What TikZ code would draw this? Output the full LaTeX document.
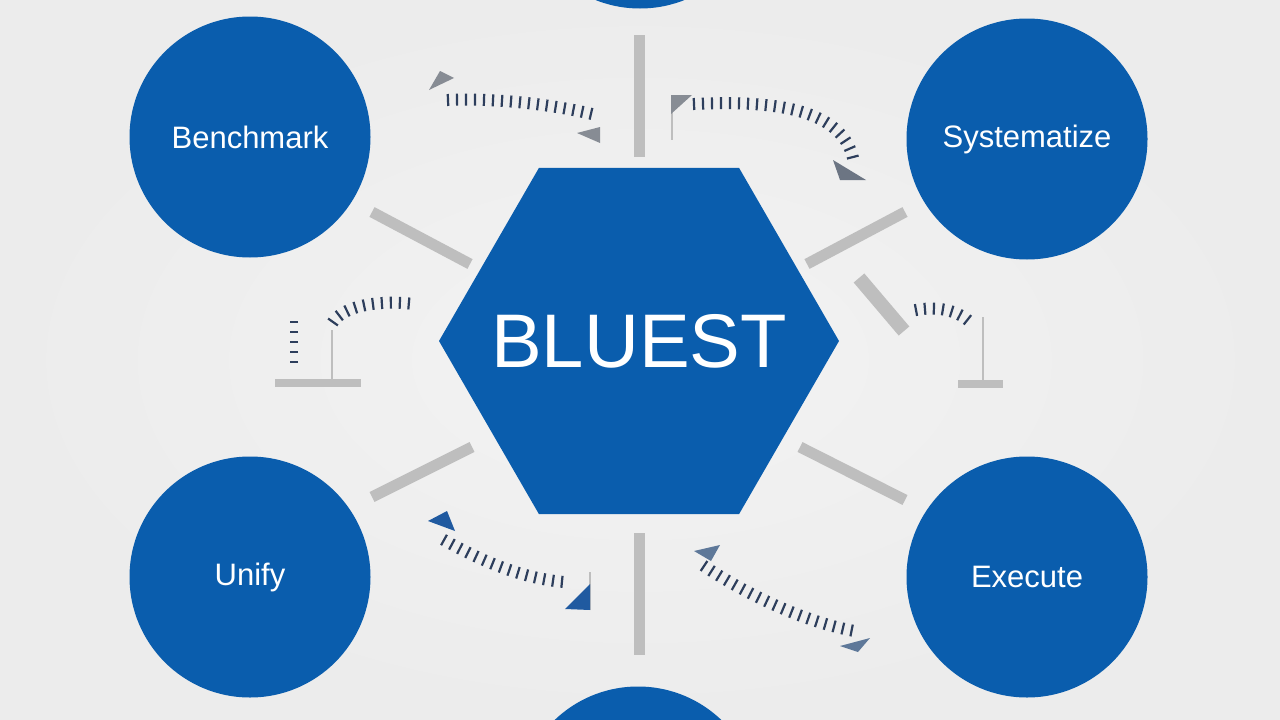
\documentclass[tikz,border=0pt]{standalone}
\usepackage{fontspec}
\setmainfont{Liberation Sans}
\usetikzlibrary{shapes.geometric,decorations.pathreplacing}
\definecolor{bblue}{RGB}{10,93,173}
\definecolor{bgc}{RGB}{236,236,236}
\definecolor{bgin}{RGB}{243,243,243}
\definecolor{barc}{RGB}{190,190,190}
\definecolor{tric}{RGB}{135,140,148}
\definecolor{trib}{RGB}{32,90,160}
\definecolor{glyc}{RGB}{45,62,92}
\tikzset{
  circ/.style={circle,fill=bblue,minimum size=241pt,inner sep=0pt,text=white,font=\fontsize{31}{34}\selectfont},
  hexa/.style={regular polygon,regular polygon sides=6,fill=bblue,minimum size=400pt,inner sep=0pt,outer sep=0pt},
  hextext/.style={text=white,inner sep=0pt,font=\fontsize{76}{80}\selectfont},
  bar/.style={draw=barc,line width=11pt,line cap=butt},
  thinbar/.style={draw=barc,line width=2.5pt},
  flatbar/.style={draw=barc,line width=8pt,line cap=butt},
  glyphs/.style={draw=glyc,line width=2.2pt,decorate,decoration={ticks,segment length=9pt,amplitude=6pt}},
  trigray/.style={fill=tric},
  triblue/.style={fill=trib}
}
\begin{document}
\begin{tikzpicture}[x=1pt,y=-1pt]
\useasboundingbox (0,0) rectangle (1280,720);
\shade[inner color=bgin,outer color=bgc] (0,0) rectangle (1280,720);
% partial circles at top and bottom
\node[circ] (top) at (640,-112) {};
\node[circ] (bot) at (638,807) {};
% main hexagon
\node[hexa] (hex) at (639,341) {};
\node[hextext] (hexlbl) at (hex.center) {BLUEST};
% circles
\node[circ] (bench) at (250,137) {Benchmark};
\node[circ] (syst) at (1027,139) {Systematize};
\node[circ] (unify) at (250,577) {Unify};
\node[circ] (exec) at (1027,577) {Execute};
% bars
\coordinate (tA) at (639,35); \coordinate (tB) at (639,157);
\coordinate (bA) at (639,533); \coordinate (bB) at (639,655);
\coordinate (ulA) at (372,212); \coordinate (ulB) at (470,264);
\coordinate (urA) at (807,264); \coordinate (urB) at (905,212);
\coordinate (llA) at (372,497); \coordinate (llB) at (472,447);
\coordinate (lrA) at (800,447); \coordinate (lrB) at (905,500);
\coordinate (rsA) at (859,278); \coordinate (rsB) at (904,331);
\draw[bar] (tA) -- (tB);
\draw[bar] (bA) -- (bB);
\draw[bar] (ulA) -- (ulB);
\draw[bar] (urA) -- (urB);
\draw[bar] (llA) -- (llB);
\draw[bar] (lrA) -- (lrB);
\draw[bar,line width=14pt] (rsA) -- (rsB);
% left bracket
\coordinate (lvA) at (332,330); \coordinate (lvB) at (332,380);
\coordinate (lhA) at (275,383); \coordinate (lhB) at (361,383);
\draw[thinbar] (lvA) -- (lvB);
\draw[flatbar] (lhA) -- (lhB);
% right bracket
\coordinate (rvA) at (983,317); \coordinate (rvB) at (983,380);
\coordinate (rhA) at (958,384); \coordinate (rhB) at (1003,384);
\draw[thinbar] (rvA) -- (rvB);
\draw[flatbar] (rhA) -- (rhB);
% upper-right flag
\coordinate (fvA) at (672,95); \coordinate (fvB) at (672,140);
\draw[thinbar] (fvA) -- (fvB);
\fill[trigray] (671,95) -- (692,95) -- (671,114) -- cycle;
% lower-left thin line
\coordinate (llvA) at (590,572); \coordinate (llvB) at (590,610);
\draw[draw=barc,line width=1.5pt] (llvA) -- (llvB);
% garbled label strokes
\coordinate (g1a) at (448,100); \coordinate (g1b) at (592,114);
\draw[glyphs] (g1a) .. controls (495,98) and (550,104) .. (g1b);
\coordinate (g2a) at (694,104); \coordinate (g2b) at (853,158);
\draw[glyphs] (g2a) .. controls (760,101) and (840,104) .. (g2b);
\coordinate (g3a) at (294,322); \coordinate (g3b) at (294,368);
\draw[glyphs,decoration={ticks,segment length=10pt,amplitude=4pt}] (g3a) -- (g3b);
\coordinate (g4a) at (333,322); \coordinate (g4b) at (414,304);
\draw[glyphs] (g4a) .. controls (345,305) and (380,300) .. (g4b);
\coordinate (g5a) at (916,310); \coordinate (g5b) at (970,322);
\draw[glyphs] (g5a) .. controls (937,306) and (957,310) .. (g5b);
\coordinate (g6a) at (444,540); \coordinate (g6b) at (564,582);
\draw[glyphs] (g6a) .. controls (480,560) and (520,578) .. (g6b);
\coordinate (g7a) at (704,566); \coordinate (g7b) at (860,632);
\draw[glyphs] (g7a) .. controls (740,590) and (800,622) .. (g7b);
% arrowhead triangles
\fill[trigray] (429,90) -- (440,71) -- (454,78) -- cycle;
\fill[trigray] (577,133) -- (600,127) -- (600,143) -- cycle;
\fill[tric!70!glyc] (833,160) -- (866,180) -- (840,180) -- cycle;
\fill[triblue] (428,521) -- (447,511) -- (455,531) -- cycle;
\fill[triblue] (565,609) -- (590,584) -- (590,610) -- cycle;
\fill[tric!60!trib] (694,551) -- (720,545) -- (711,561) -- cycle;
\fill[tric!60!trib] (840,646) -- (870,638) -- (858,652) -- cycle;
\end{tikzpicture}
\end{document}
